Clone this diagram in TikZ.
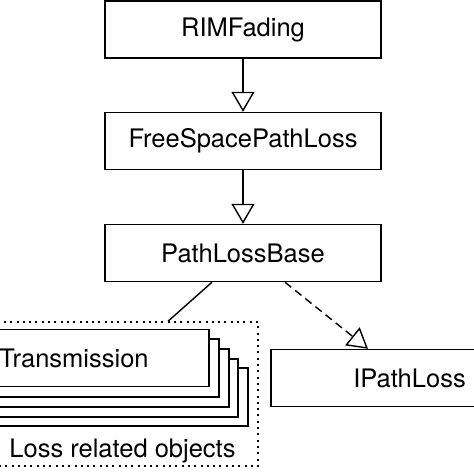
\documentclass[tikz,border=0pt]{standalone}
\usepackage{fontspec}
\setmainfont{TeX Gyre Heros}
\usetikzlibrary{arrows.meta}
\begin{document}
\begin{tikzpicture}[x=1pt,y=-1pt,
  cls/.style={draw,line width=1.4pt,fill=white,minimum width=276pt,minimum height=57pt,inner sep=0pt,font=\fontsize{25.5}{30}\selectfont},
  stackbox/.style={draw,line width=1.4pt,fill=white},
  inh/.style={line width=1.4pt,-{Triangle[open,width=23pt,length=20pt,line width=1.4pt]}},
  grpbox/.style={draw,line width=1.4pt,dash pattern=on 2pt off 4.3pt,minimum width=278pt,minimum height=144pt,inner sep=0pt},
  lbl/.style={font=\fontsize{25.5}{30}\selectfont,inner sep=0pt}]
\useasboundingbox (0,0) rectangle (474,474);
\clip (0,0) rectangle (474,474);
\fill[white] (0,0) rectangle (474,474);
% group
\node[grpbox] (grp) at (119,394) {};
% stacked boxes, back to front
\draw[stackbox] (-70,368) rectangle (248,426);
\draw[stackbox] (-70,359) rectangle (238,417);
\draw[stackbox] (-70,349) rectangle (229,407);
\draw[stackbox] (-70,339) rectangle (219,397);
\node[cls,minimum width=270pt] (tr) at (74,358) {Transmission};
\node[lbl] (grplbl) at (122.5,451) {Loss related objects};
% main classes
\node[cls] (rim) at (243,29.5) {RIMFading};
\node[cls] (fsp) at (243,141) {FreeSpacePathLoss};
\node[cls] (plb) at (243,253) {PathLossBase};
\node[cls,minimum width=277pt] (ipl) at (409.5,378) {IPathLoss};
% connectors
\draw[inh] (rim.south) -- (fsp.north);
\draw[inh] (fsp.south) -- (plb.north);
\coordinate (xa) at (212,0);
\coordinate (xb) at (168,0);
\coordinate (xc) at (285,0);
\coordinate (xd) at (368,0);
\draw[line width=1.4pt] (plb.south -| xa) -- (grp.north -| xb);
\draw[inh,dash pattern=on 8pt off 5pt] (plb.south -| xc) -- (ipl.north -| xd);
\end{tikzpicture}
\end{document}
